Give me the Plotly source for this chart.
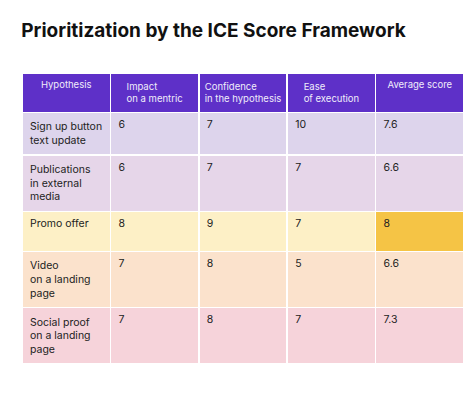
import plotly.graph_objects as go

headers = ["Hypothesis", "Impact<br>on a mentric", "Confidence<br>in the hypothesis", "Ease<br>of execution", "Average score"]
hypotheses = ["Sign up button<br>text update", "Publications<br>in external<br>media", "Promo offer", "Video<br>on a landing<br>page", "Social proof<br>on a landing<br>page"]
impact = ["6", "6", "8", "7", "7"]
confidence = ["7", "7", "9", "8", "8"]
ease = ["10", "7", "7", "5", "7"]
average = ["7.6", "6.6", "8", "6.6", "7.3"]

row_colors = ["#DDD4EC", "#E6D6E9", "#FDF0C6", "#FBE2CC", "#F6D3DA"]
avg_colors = ["#DDD4EC", "#E6D6E9", "#F5C445", "#FBE2CC", "#F6D3DA"]

fig = go.Figure(go.Table(
    columnwidth=[1, 1, 1, 1, 1],
    header=dict(values=headers, fill_color="#5E30C8", line_color="white", line_width=1.5,
                font=dict(color="#F0ECFA", size=9.5, family="Inter"), align="center", height=38),
    cells=dict(values=[hypotheses, impact, confidence, ease, average],
               fill_color=[row_colors, row_colors, row_colors, row_colors, avg_colors],
               line_color="white", line_width=1.5,
               font=dict(color="#222222", size=10.5, family="Inter"), align="left", height=40),
))
fig.update_layout(
    width=474, height=402, paper_bgcolor="white",
    margin=dict(l=14, r=18, t=65, b=10),
    title=dict(text="<b>Prioritization by the ICE Score Framework</b>", x=0.028, xanchor="left",
               y=0.945, yanchor="middle", font=dict(size=19, family="Inter", color="#111111")),
)
fig.write_html("out.html")
